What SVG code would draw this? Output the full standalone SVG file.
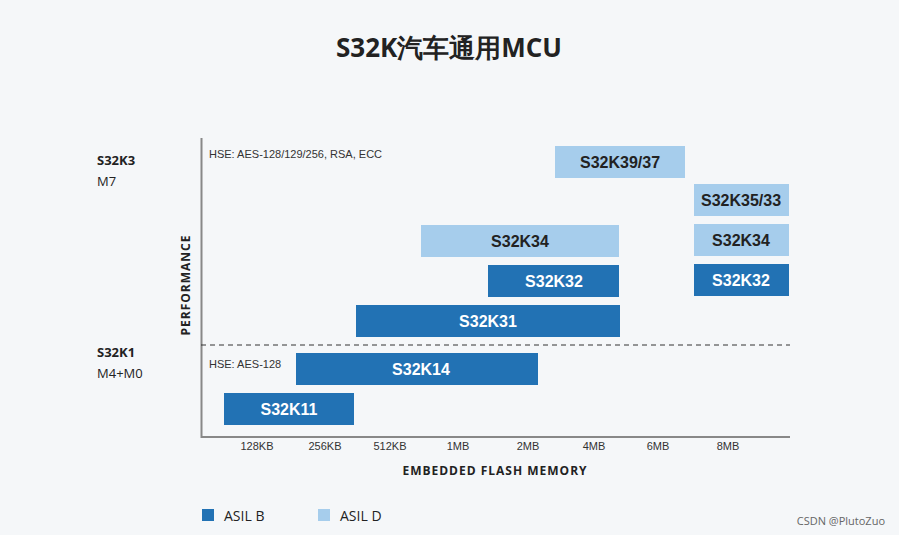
<svg xmlns="http://www.w3.org/2000/svg" width="899" height="535" viewBox="0 0 899 535">
<style>
text{font-family:"Open Sans","Liberation Sans",sans-serif}
.d{fill:#2272b4}.l{fill:#a6cdec}
.bt{font-size:16px;font-weight:bold;text-anchor:middle;font-family:"Liberation Sans",sans-serif}
.w{fill:#fff}.k{fill:#222}
.ax{font-size:11px;fill:#333;text-anchor:middle;font-family:"Liberation Sans",sans-serif}
.sm{font-size:11px;fill:#333;font-family:"Liberation Sans",sans-serif}
.fam{font-size:13px;fill:#222}
</style>
<rect width="899" height="535" fill="#f5f7f9"/>
<text x="449" y="57" font-size="26" font-weight="bold" fill="#222" text-anchor="middle" font-family="'Open Sans','Noto Sans CJK SC',sans-serif">S32K汽车通用MCU</text>
<g id="labels">
<text x="97" y="165" class="fam" font-weight="bold">S32K3</text>
<text x="97" y="186" class="fam">M7</text>
<text x="97" y="357" class="fam" font-weight="bold">S32K1</text>
<text x="97" y="378" class="fam">M4+M0</text>
<text transform="translate(190,285) rotate(-90)" font-size="12" font-weight="bold" fill="#222" text-anchor="middle" letter-spacing="1">PERFORMANCE</text>
<text x="209" y="158" class="sm">HSE: AES-128/129/256, RSA, ECC</text>
<text x="209" y="368" class="sm">HSE: AES-128</text>
</g>
<g id="axes" stroke="#888" fill="none">
<path d="M201.5 138V437H790" stroke-width="2"/>
<path d="M201 345H790" stroke="#333" stroke-dasharray="5,4"/>
</g>
<g id="ticks">
<text x="257" y="450" class="ax">128KB</text>
<text x="325" y="450" class="ax">256KB</text>
<text x="390" y="450" class="ax">512KB</text>
<text x="458" y="450" class="ax">1MB</text>
<text x="528" y="450" class="ax">2MB</text>
<text x="594" y="450" class="ax">4MB</text>
<text x="658" y="450" class="ax">6MB</text>
<text x="728" y="450" class="ax">8MB</text>
<text x="495" y="475" font-size="12" font-weight="bold" fill="#222" text-anchor="middle" letter-spacing="1">EMBEDDED FLASH MEMORY</text>
</g>
<g id="n1"><rect class="l" x="555" y="146" width="130" height="32"/><text class="bt k" x="620" y="168">S32K39/37</text></g>
<g id="n2"><rect class="l" x="694" y="184" width="95" height="32"/><text class="bt k" x="741" y="206">S32K35/33</text></g>
<g id="n3"><rect class="l" x="694" y="224" width="95" height="32"/><text class="bt k" x="741" y="246">S32K34</text></g>
<g id="n4"><rect class="d" x="694" y="264" width="95" height="32"/><text class="bt w" x="741" y="286">S32K32</text></g>
<g id="n5"><rect class="l" x="421" y="225" width="198" height="32"/><text class="bt k" x="520" y="247">S32K34</text></g>
<g id="n6"><rect class="d" x="488" y="265" width="131" height="32"/><text class="bt w" x="554" y="287">S32K32</text></g>
<g id="n7"><rect class="d" x="356" y="305" width="264" height="32"/><text class="bt w" x="488" y="327">S32K31</text></g>
<g id="n8"><rect class="d" x="296" y="353" width="242" height="32"/><text class="bt w" x="421" y="375">S32K14</text></g>
<g id="n9"><rect class="d" x="224" y="393" width="130" height="32"/><text class="bt w" x="289" y="415">S32K11</text></g>
<g id="legend">
<rect class="d" x="202" y="509" width="12" height="12"/><text x="224" y="521" font-size="14" fill="#222">ASIL B</text>
<rect class="l" x="318" y="509" width="12" height="12"/><text x="340" y="521" font-size="14" fill="#222">ASIL D</text>
<text x="885" y="525" font-size="11" fill="#666" text-anchor="end" font-family="Liberation Sans,sans-serif">CSDN @PlutoZuo</text>
</g>
</svg>
